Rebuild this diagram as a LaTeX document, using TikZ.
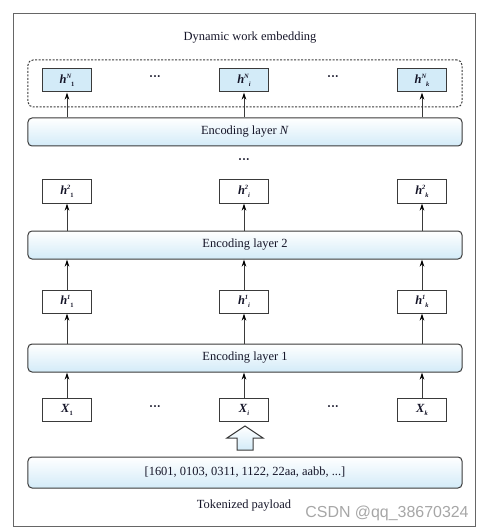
\documentclass[tikz,border=0pt]{standalone}
\usepackage{fontspec}
\setmainfont{Liberation Serif}
\newfontfamily\wmfont{Liberation Sans}
\usetikzlibrary{arrows.meta}
\definecolor{lineg}{HTML}{3A3A3A}
\definecolor{lblue}{HTML}{D3EBF8}
\definecolor{txt}{HTML}{151528}
\newcommand{\hlab}[2]{{\bfseries\itshape h}\raisebox{0.9ex}{\fontsize{6.5}{7}\selectfont\bfseries\itshape #1}\raisebox{-0.6ex}{\fontsize{6.5}{7}\selectfont\bfseries #2}}
\newcommand{\xlab}[1]{{\bfseries\itshape X}\raisebox{-0.6ex}{\fontsize{6.5}{7}\selectfont\bfseries #1}}
\begin{document}
\begin{tikzpicture}[x=1bp,y=-1bp,
  every node/.style={font=\fontsize{12.5}{14}\selectfont, text=txt},
  vecbox/.style={draw=lineg, line width=1bp, minimum width=49bp, minimum height=23bp, inner sep=0pt},
  topbox/.style={vecbox, fill=lblue},
  layerbox/.style={draw=lineg, line width=1bp, rounded corners=4bp, minimum width=434bp, minimum height=28bp, top color=white, bottom color=lblue, inner sep=0pt},
  arr/.style={draw=lineg, line width=1bp, -{Stealth[length=7bp,width=4.5bp,color=black]}},
  dotsl/.style={font=\fontsize{12}{12}\selectfont}
]
\useasboundingbox (0,0) rectangle (487,532);
\draw[line width=0.9bp, draw=black!60] (13,13) rectangle (475,526);

\node (title) at (250,38) {Dynamic work embedding};
\node[draw=lineg, line width=1bp, dash pattern=on 2bp off 1.5bp, rounded corners=5bp, minimum width=434bp, minimum height=47bp] (grp) at (245,83.5) {};

% top row
\node[topbox] (hN1) at (67,80.5) {\hlab{N}{1}};
\node[topbox] (hNi) at (244,80.5) {\hlab{N}{\itshape i}};
\node[topbox] (hNk) at (422,80.5) {\hlab{N}{\itshape k}};
\node[dotsl] (dN1) at (155,78) {\textbf{···}};
\node[dotsl] (dN2) at (333,78) {\textbf{···}};

\node[layerbox] (LN) at (245,132) {Encoding layer \textit{N}};
\node[dotsl] (vd) at (244,161) {\textbf{···}};

\node[vecbox] (h21) at (67,191.5) {\hlab{2}{1}};
\node[vecbox] (h2i) at (244,191.5) {\hlab{2}{\itshape i}};
\node[vecbox] (h2k) at (422,191.5) {\hlab{2}{\itshape k}};

\node[layerbox] (L2) at (245,245) {Encoding layer 2};

\node[vecbox] (h11) at (67,301.5) {\hlab{1}{1}};
\node[vecbox] (h1i) at (244,301.5) {\hlab{1}{\itshape i}};
\node[vecbox] (h1k) at (422,301.5) {\hlab{1}{\itshape k}};

\node[layerbox] (L1) at (245,358) {Encoding layer 1};

\node[vecbox] (x1) at (67,410) {\xlab{1}};
\node[vecbox] (xi) at (244,410) {\xlab{\itshape i}};
\node[vecbox] (xk) at (422,410) {\xlab{\itshape k}};
\node[dotsl] (dX1) at (155,408) {\textbf{···}};
\node[dotsl] (dX2) at (333,408) {\textbf{···}};

\node[layerbox, minimum height=31bp] (pay) at (245,472.5) {[1601, 0103, 0311, 1122, 22aa, aabb, ...]};
\node (tok) at (244,506) {Tokenized payload};

% arrows
\foreach \c in {1,i,k}{
  \draw[arr] (hN\c |- LN.north) -- (hN\c.south);
  \draw[arr] (h2\c |- L2.north) -- (h2\c.south);
  \draw[arr] (h1\c |- L1.north) -- (h1\c.south);
  \draw[arr] (h1\c.north) -- (h1\c |- L2.south);
  \draw[arr] (x\c.north) -- (x\c |- L1.south);
}

% hollow arrow
\draw[draw=lineg, line width=1bp, top color=white, bottom color=lblue]
  (245,426) -- (263,438) -- (253,438) -- (253,450) -- (237,450) -- (237,438) -- (227,438) -- cycle;

\node[font=\wmfont\fontsize{16}{18}\selectfont, text=black!35] (wm) at (387,513) {CSDN @qq\_38670324};
\end{tikzpicture}
\end{document}
